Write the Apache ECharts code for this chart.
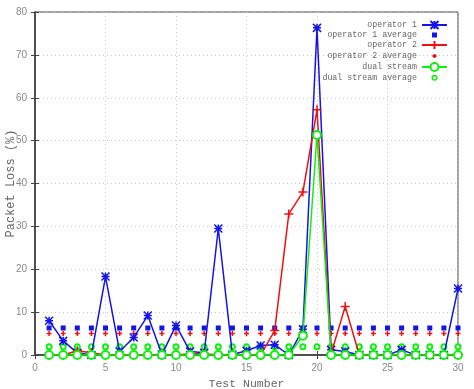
<!DOCTYPE html>
<html>
<head>
<meta charset="utf-8">
<script src="https://cdn.jsdelivr.net/npm/echarts@6/dist/echarts.min.js"></script>
<style>html,body{margin:0;padding:0;background:#fff}#c{width:474px;height:389px}</style>
</head>
<body>
<div id="c"></div>
<script>
const testNumbers = [1,2,3,4,5,6,7,8,9,10,11,12,13,14,15,16,17,18,19,20,21,22,23,24,25,26,27,28,29,30];
const operator1 = [8.0,3.3,0.5,0,18.3,0.8,4.1,9.2,0.1,6.9,0.8,0.5,29.5,0.1,1.0,2.2,2.4,0,6.0,76.3,1.2,0.8,0,0,0,1.2,0,0,0,15.5];
const operator1Avg = [6.3,6.3,6.3,6.3,6.3,6.3,6.3,6.3,6.3,6.3,6.3,6.3,6.3,6.3,6.3,6.3,6.3,6.3,6.3,6.3,6.3,6.3,6.3,6.3,6.3,6.3,6.3,6.3,6.3,6.3];
const operator2 = [0,0,1.0,0.5,0,0,0,0,0,0,0.3,0.3,0,0,0,0,5.7,32.9,38.0,57.2,0.3,11.3,0,0,0,0,0,0,0,0];
const operator2Avg = [5.0,5.0,5.0,5.0,5.0,5.0,5.0,5.0,5.0,5.0,5.0,5.0,5.0,5.0,5.0,5.0,5.0,5.0,5.0,5.0,5.0,5.0,5.0,5.0,5.0,5.0,5.0,5.0,5.0,5.0];
const dualStream = [0,0,0,0,0,0,0,0,0,0,0,0,0,0,0,0,0,0,4.5,51.3,0,0,0,0,0,0,0,0,0,0];
const dualStreamAvg = [1.9,1.9,1.9,1.9,1.9,1.9,1.9,1.9,1.9,1.9,1.9,1.9,1.9,1.9,1.9,1.9,1.9,1.9,1.9,1.9,1.9,1.9,1.9,1.9,1.9,1.9,1.9,1.9,1.9,1.9];
const seriesNames = ['operator 1','operator 1 average','operator 2','operator 2 average','dual stream','dual stream average'];
const xTicks = {min:0,max:30,interval:5};
const yTicks = {min:0,max:80,interval:10};

const BLUE = '#1414e6', RED = '#f01010', GREEN = '#10f010';
const pairs = arr => arr.map((v,i)=>[testNumbers[i], v]);
const star = 'path://M0,0L10,10M10,0L0,10M5,0L5,10M0,5L10,5';
const plus = 'path://M5,0L5,10M0,5L10,5';
// legend icons padded inside a 10x10 box so they render small
const legSquare = 'path://M0,0M10,10M2.5,2.5L7.5,2.5L7.5,7.5L2.5,7.5Z';
const legPlus = 'path://M0,0M10,10M5,3L5,7M3,5L7,5';
const legCircle = 'path://M0,0M10,10M7.3,5A2.3,2.3,0,1,1,2.7,5A2.3,2.3,0,1,1,7.3,5Z';
const mono = 'Liberation Mono';

const chart = echarts.init(document.getElementById('c'), null, {renderer:'canvas'});
const hiddenAxis = {
  axisLine:{show:false}, axisLabel:{show:false}, splitLine:{show:false},
  axisTick:{show:true, inside:true, length:4, lineStyle:{color:'#444'}}
};
chart.setOption({
  animation:false,
  grid:{left:35,right:16,top:12,bottom:34,show:true,borderColor:'#444',borderWidth:1,containLabel:false,outerBoundsMode:'none'},
  legend:{
    orient:'vertical', align:'right', right:21, top:15, itemGap:0, itemWidth:25, itemHeight:10,
    data:[
      {name:seriesNames[0]},
      {name:seriesNames[1], icon:legSquare},
      {name:seriesNames[2]},
      {name:seriesNames[3], icon:legPlus},
      {name:seriesNames[4]},
      {name:seriesNames[5], icon:legCircle, itemStyle:{color:'rgba(0,0,0,0)',borderColor:GREEN,borderWidth:1.5}}
    ],
    textStyle:{fontFamily:mono,fontSize:8.3,color:'#666'}
  },
  xAxis:[{
    type:'value', min:xTicks.min, max:xTicks.max, interval:xTicks.interval,
    name:'Test Number', nameLocation:'middle', nameGap:23, nameMoveOverlap:false,
    nameTextStyle:{fontFamily:mono,fontSize:11.5,color:'#666'},
    axisLine:{show:true,onZero:false,lineStyle:{color:'#333',width:1.5}},
    axisTick:{show:true,inside:true,length:4,lineStyle:{color:'#444'}},
    axisLabel:{color:'#888',fontSize:10,fontFamily:'Liberation Sans',margin:8},
    splitLine:{show:true,lineStyle:{color:'#c8c8c8',type:[1,3],width:1}}
  },{
    type:'value', position:'top', min:xTicks.min, max:xTicks.max, interval:xTicks.interval, ...hiddenAxis
  }],
  yAxis:[{
    type:'value', min:yTicks.min, max:yTicks.max, interval:yTicks.interval,
    name:'Packet Loss (%)', nameLocation:'middle', nameGap:18, nameRotate:90, nameMoveOverlap:false,
    nameTextStyle:{fontFamily:mono,fontSize:12,color:'#666'},
    axisLine:{show:true,lineStyle:{color:'#333',width:1.5}},
    axisTick:{show:true,inside:true,length:4,lineStyle:{color:'#444'}},
    axisLabel:{color:'#888',fontSize:10,fontFamily:'Liberation Sans',margin:8},
    splitLine:{show:true,lineStyle:{color:'#c8c8c8',type:[1,3],width:1}}
  },{
    type:'value', position:'right', min:yTicks.min, max:yTicks.max, interval:yTicks.interval, ...hiddenAxis
  }],
  series:[
    {name:seriesNames[0], type:'line', data:pairs(operator1), symbol:star, symbolSize:8,
     lineStyle:{color:BLUE,width:1.5}, itemStyle:{color:BLUE,borderColor:BLUE,borderWidth:1.5}, z:3},
    {name:seriesNames[1], type:'scatter', data:pairs(operator1Avg), symbol:'rect', symbolSize:5,
     itemStyle:{color:BLUE,opacity:1}, z:2},
    {name:seriesNames[2], type:'line', data:pairs(operator2), symbol:plus, symbolSize:9,
     lineStyle:{color:RED,width:1.5}, itemStyle:{color:RED,borderColor:RED,borderWidth:1.5}, z:4},
    {name:seriesNames[3], type:'scatter', data:pairs(operator2Avg), symbol:plus, symbolSize:5,
     itemStyle:{color:RED,borderColor:RED,borderWidth:1.5,opacity:1}, z:2},
    {name:seriesNames[4], type:'line', data:pairs(dualStream), symbol:'emptyCircle', symbolSize:8,
     lineStyle:{color:GREEN,width:1.5}, itemStyle:{color:GREEN,borderColor:GREEN,borderWidth:1.5}, z:5},
    {name:seriesNames[5], type:'scatter', data:pairs(dualStreamAvg), symbol:'emptyCircle', symbolSize:5,
     itemStyle:{color:GREEN,borderColor:GREEN,borderWidth:1.5,opacity:1}, z:2}
  ]
});
</script>
</body>
</html>
